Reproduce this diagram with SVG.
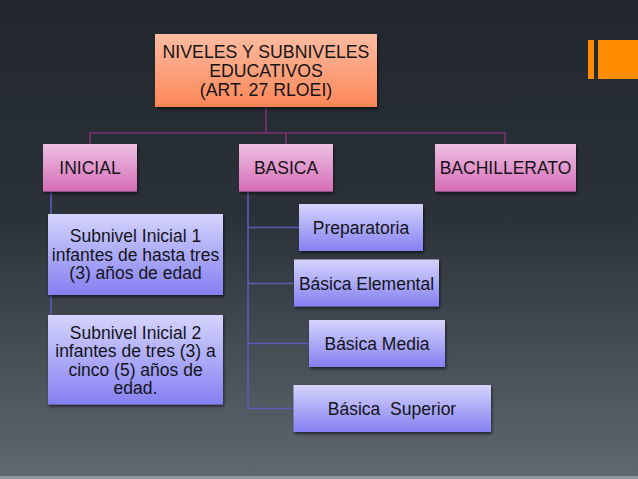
<svg xmlns="http://www.w3.org/2000/svg" width="638" height="479" viewBox="0 0 638 479">
<defs>
<linearGradient id="bg" x1="0" y1="0" x2="0" y2="1">
<stop offset="0" stop-color="#21272d"/>
<stop offset="0.45" stop-color="#2a3138"/>
<stop offset="1" stop-color="#606870"/>
</linearGradient>
<linearGradient id="gOrange" x1="0" y1="0" x2="0" y2="1">
<stop offset="0" stop-color="#fdbca2"/>
<stop offset="1" stop-color="#fb8657"/>
</linearGradient>
<linearGradient id="gPink" x1="0" y1="0" x2="0" y2="1">
<stop offset="0" stop-color="#eec0e2"/>
<stop offset="1" stop-color="#d56db7"/>
</linearGradient>
<linearGradient id="gBlue" x1="0" y1="0" x2="0" y2="1">
<stop offset="0" stop-color="#d4d4fc"/>
<stop offset="1" stop-color="#8580f2"/>
</linearGradient>
<filter id="sh" x="-10%" y="-10%" width="130%" height="140%">
<feDropShadow dx="1" dy="2" stdDeviation="1.5" flood-color="#000" flood-opacity="0.6"/>
</filter>
</defs>
<style>
text{font-family:"Liberation Sans",Arial,sans-serif;fill:#141418;text-anchor:middle}
.t{font-size:17.7px}
.s{font-size:17.5px}
.o{fill:url(#gOrange);filter:url(#sh)}
.p{fill:url(#gPink);filter:url(#sh)}
.b{fill:url(#gBlue);filter:url(#sh)}
.cm{stroke:#7d3172;stroke-width:1.6;fill:none}
.cb{stroke:#5b5cb4;stroke-width:1.6;fill:none}
</style>
<rect width="638" height="479" fill="url(#bg)"/>
<rect x="0" y="476" width="638" height="3" fill="#8e959c"/>
<rect x="588" y="40" width="6" height="39" fill="#ff8c00"/>
<rect x="598" y="40" width="40" height="39" fill="#ff8c00"/>

<g id="connectors">
<path class="cm" d="M266 107V133M90 145V133H505V145M286 133V145"/>
<path class="cb" d="M51 192V360M248 191V408.5H294M248 227.5H299M248 283.5H294M248 343.5H309"/>
</g>

<g id="n-root">
<rect class="o" x="155" y="34" width="222" height="73"/>
<text class="t" x="266" y="57.5">NIVELES Y SUBNIVELES</text>
<text class="t" x="266" y="76.5">EDUCATIVOS</text>
<text class="t" x="266" y="95.5">(ART. 27 RLOEI)</text>
</g>
<g id="n-inicial">
<rect class="p" x="43" y="144" width="94" height="47.5"/>
<text class="s" x="90" y="174">INICIAL</text>
</g>
<g id="n-basica">
<rect class="p" x="239" y="144" width="94" height="47.5"/>
<text class="s" x="286" y="174">BASICA</text>
</g>
<g id="n-bach">
<rect class="p" x="435" y="144" width="141" height="47.5"/>
<text class="s" x="505.5" y="174">BACHILLERATO</text>
</g>
<g id="n-sub1">
<rect class="b" x="48" y="214" width="175" height="81"/>
<text class="s" x="135.5" y="242">Subnivel Inicial 1</text>
<text class="s" x="135.5" y="260.5">infantes de hasta tres</text>
<text class="s" x="135.5" y="279">(3) años de edad</text>
</g>
<g id="n-sub2">
<rect class="b" x="48" y="315" width="175" height="89.5"/>
<text class="s" x="135.5" y="338.5">Subnivel Inicial 2</text>
<text class="s" x="135.5" y="357">infantes de tres (3) a</text>
<text class="s" x="135.5" y="375.5">cinco (5) años de</text>
<text class="s" x="135.5" y="394">edad.</text>
</g>
<g id="n-prep">
<rect class="b" x="299" y="204" width="124" height="47"/>
<text class="s" x="361" y="233.5">Preparatoria</text>
</g>
<g id="n-elem">
<rect class="b" x="294" y="259.5" width="145" height="47"/>
<text class="s" x="366.5" y="289.5">Básica Elemental</text>
</g>
<g id="n-media">
<rect class="b" x="309" y="320" width="136" height="47"/>
<text class="s" x="377" y="349.5">Básica Media</text>
</g>
<g id="n-sup">
<rect class="b" x="293.5" y="385" width="197.5" height="47"/>
<text class="s" x="392" y="414.5" xml:space="preserve">Básica  Superior</text>
</g>
</svg>
